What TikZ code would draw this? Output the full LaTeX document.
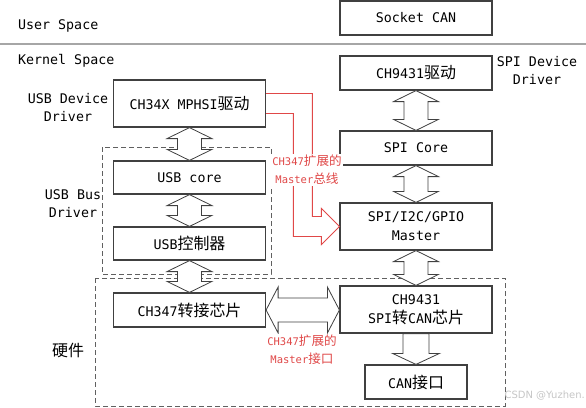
\documentclass[tikz,border=0pt]{standalone}
\usepackage{fontspec}
\setmainfont{DejaVu Sans Mono}
\newfontfamily\cjk[Scale=1.2]{Noto Sans CJK SC}
\newfontfamily\wmfont{DejaVu Sans}
\usepackage{xcolor}
\usepackage{tikz}
\usetikzlibrary{calc, positioning}
\definecolor{boxgray}{HTML}{404040}
\definecolor{dashgray}{HTML}{606060}
\definecolor{busred}{HTML}{E04848}
\tikzset{
    box/.style={
        rectangle,
        draw=boxgray,
        line width=1.2pt,
        minimum width=152pt,
        minimum height=34pt,
        fill=white,
        align=center,
        font=\fontsize{13.3}{19}\selectfont
    },
    tallbox/.style={
        minimum height=47pt
    },
    dashbox/.style={
        draw=dashgray,
        dash pattern=on 5pt off 3pt,
        line width=0.8pt
    },
    blkarrow/.style={
        draw=boxgray,
        line width=0.8pt,
        fill=white,
        line join=miter
    },
    redarrow/.style={
        draw=busred,
        line width=0.9pt
    },
    lbl/.style={
        align=center,
        inner sep=1pt,
        font=\fontsize{13.3}{18}\selectfont
    },
    redlbl/.style={
        align=center,
        fill=white,
        inner sep=1pt,
        text=busred,
        font=\fontsize{10.5}{18}\selectfont
    },
    sepline/.style={
        draw=gray!70,
        line width=2pt
    }
}

\begin{document}
\begin{tikzpicture}[x=1pt, y=-1pt]
\useasboundingbox (0,0) rectangle (586,407);

% dashed groups
\draw[dashbox] (102,147) rectangle (271,274);
\draw[dashbox] (95,278) rectangle (505,406);

% user / kernel border
\draw[sepline] (0,44) -- (586,44);

% right column
\node[box] (sock) at (416,18) {Socket CAN};
\node[box] (chdrv) at (416,73) {CH9431{\cjk 驱动}};
\node[box] (spicore) at (416,148) {SPI Core};
\node[box, tallbox] (master) at (416,226.5) {SPI/I2C/GPIO\\Master};
\node[box, tallbox] (chip) at (416,309.5) {CH9431\\SPI{\cjk 转}CAN{\cjk 芯片}};
\node[box, minimum width=102pt] (can) at (416,382) {CAN{\cjk 接口}};

% left column
\node[box, tallbox] (mphsi) at (189.5,103.5) {CH34X MPHSI{\cjk 驱动}};
\node[box, minimum height=33pt] (usbcore) at (189.5,177.5) {USB core};
\node[box, minimum height=33pt] (usbctl) at (189.5,243.5) {USB{\cjk 控制器}};
\node[box] (ch347) at (189.5,310) {CH347{\cjk 转接芯片}};

% vertical double arrows
\foreach \a/\b in {mphsi/usbcore, usbcore/usbctl, usbctl/ch347, chdrv/spicore, spicore/master, master/chip} {
  \draw[blkarrow] let \p1=(\a.south), \p2=(\b.north) in
    (\x1,\y1) -- ++(22.5pt,-11pt) -- ++(-10.5pt,0) -- (\x1+12pt,\y2+11pt) -- ++(10.5pt,0)
    -- (\x1,\y2) -- ++(-22.5pt,11pt) -- ++(10.5pt,0) -- (\x1-12pt,\y1-11pt) -- ++(-10.5pt,0) -- cycle;
}

% chip to CAN
\draw[blkarrow] let \p1=(chip.south), \p2=(can.north) in
  (\x1-13pt,\y1) -- (\x1+13pt,\y1) -- (\x1+13pt,\y2+11pt) -- ++(10.5pt,0)
  -- (\x1,\y2) -- ++(-23.5pt,11pt) -- ++(10.5pt,0) -- cycle;

% hardware link
\draw[blkarrow] let \p1=(ch347.east), \p2=(chip.west) in
  (\x1,\y1) -- ++(12pt,23pt) -- ++(0,-11pt) -- (\x2-12pt,\y1+12pt) -- ++(0,11pt)
  -- (\x2,\y1) -- ++(-12pt,-23pt) -- ++(0,11pt) -- (\x1+12pt,\y1-12pt) -- ++(0,-11pt) -- cycle;

% Master bus
\draw[redarrow] let \p1=(mphsi.east), \p2=(master.west) in
  (\x1,\y1+10pt) -- (\x2-27pt,\y1+10pt) -- (\x2-27pt,\y2+10pt) -- (\x2-18pt,\y2+10pt)
  -- (\x2-18pt,\y2+18pt) -- (\x2,\y2) -- (\x2-18pt,\y2-18pt) -- (\x2-18pt,\y2-10pt)
  -- (\x2-46pt,\y2-10pt) -- (\x2-46pt,\y1-10pt) -- (\x1,\y1-10pt);
\node[redlbl] (buslbl) at (307,170) {CH347{\cjk 扩展的}\\Master{\cjk 总线}};
\node[redlbl] (iflbl) at (302,350) {CH347{\cjk 扩展的}\\Master{\cjk 接口}};

% side labels
\node[lbl, anchor=west] (userlbl) at (17,26) {User Space};
\node[lbl, anchor=west] (kernlbl) at (17,61) {Kernel Space};
\node[lbl] (usbdevlbl) at (68,108) {USB Device\\Driver};
\node[lbl] (usbbuslbl) at (73,204) {USB Bus\\Driver};
\node[lbl] (spidevlbl) at (537,71) {SPI Device\\Driver};
\node[lbl] (hwlbl) at (68,350) {{\cjk 硬件}};

\node[anchor=east, inner sep=1pt, text=gray!45, font=\wmfont\fontsize{10}{12}\selectfont] (wm) at (586,396) {CSDN @Yuzhen.};

\end{tikzpicture}
\end{document}
